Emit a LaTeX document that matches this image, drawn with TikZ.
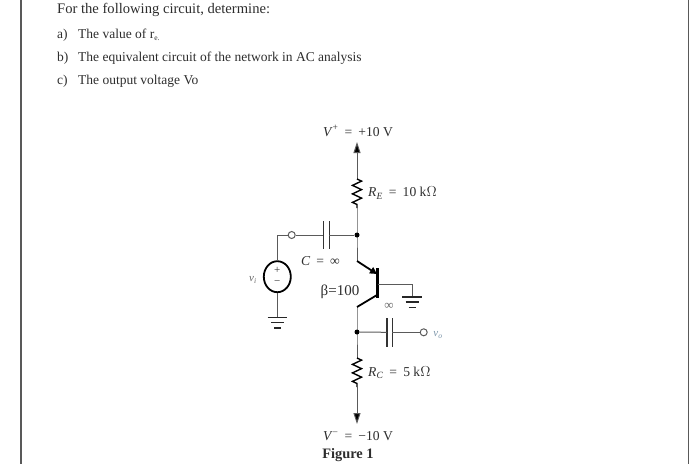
\documentclass[tikz,border=0pt]{standalone}
\usepackage{fontspec}
\setmainfont{Liberation Serif}
\usetikzlibrary{arrows.meta,decorations.pathmorphing,shapes.geometric}
\definecolor{ink}{RGB}{45,45,45}
\definecolor{wire}{RGB}{90,90,90}
\definecolor{voblue}{RGB}{125,150,170}
\newcommand{\wsp}{\hspace{0.45em}}
\tikzset{
  body/.style={font=\fontsize{13.5}{15}\selectfont,text=ink,anchor=west,inner sep=0pt},
  lbl/.style={font=\fontsize{13.6}{15}\selectfont,text=ink,inner sep=0pt},
  wireline/.style={draw=wire,line width=1pt},
  heavy/.style={draw=black,line width=1.8pt},
  plate/.style={draw=black!80,line width=1.6pt},
  terminal/.style={circle,draw=wire,fill=white,line width=1pt,minimum size=7pt,inner sep=0pt},
  dotnode/.style={circle,fill=black,minimum size=5pt,inner sep=0pt},
  resistor/.style={draw=black,line width=1.4pt,decorate,decoration={zigzag,amplitude=4.5pt,segment length=8.5pt}},
  gndbar/.style={draw=black!85,line width=1.6pt},
  border/.style={draw=black!65,line width=1.6pt},
  railarrow/.style={wireline,-{Triangle[length=11pt,width=7pt,fill=black]}}
}
\begin{document}
\begin{tikzpicture}[x=1pt,y=-1pt]
\useasboundingbox (0,0) rectangle (700,464);
% page edges
\coordinate (bl1) at (21,0); \coordinate (bl2) at (21,464);
\coordinate (br1) at (688.5,0); \coordinate (br2) at (688.5,464);
\draw[border] (bl1) -- (bl2);
\draw[border] (br1) -- (br2);
% question text
\node[body,font=\fontsize{14.6}{17}\selectfont] (q0) at (57,10) {For the following circuit, determine:};
\node[body] (qa) at (57,35) {a)};
\node[body] (qat) at (78,35) {The value of r\raisebox{-1.5pt}{\fontsize{7.5}{8}\selectfont e.}};
\node[body] (qb) at (57,58) {b)};
\node[body] (qbt) at (78,58) {The equivalent circuit of the network in AC analysis};
\node[body] (qc) at (57,81) {c)};
\node[body] (qct) at (78,81) {The output voltage Vo};
% rails
\node[lbl] (vplus) at (358,131) {\textit{V}\textsuperscript{+}\wsp=\wsp+10 V};
\coordinate (vptip) at (357,142);
\coordinate (retop) at (357,179);
\coordinate (rebot) at (357,208);
\coordinate (jb) at (357,235);
\coordinate (em) at (357,261);
\coordinate (col) at (357,307);
\coordinate (jo) at (357,332);
\coordinate (rctop) at (357,358);
\coordinate (rcbot) at (357,387);
\coordinate (vmtip) at (357,424);
\node[lbl,anchor=west] (re) at (368,193) {\textit{R\textsubscript{E}}\wsp=\wsp10 k$\Omega$};
\node[lbl,anchor=west] (rc) at (368,373) {\textit{R\textsubscript{C}}\wsp=\wsp5 k$\Omega$};
\node[lbl] (vminus) at (358,436) {\textit{V}\textsuperscript{−}\wsp=\wsp−10 V};
\node[lbl,font=\bfseries\fontsize{14.4}{16}\selectfont] (fig) at (348,455) {Figure 1};
\draw[railarrow] (retop) -- (vptip);
\draw[resistor] (retop) -- (rebot);
\draw[wireline] (rebot) -- (jb) -- (em);
\draw[wireline] (col) -- (jo) -- (rctop);
\draw[resistor] (rctop) -- (rcbot);
\draw[railarrow] (rcbot) -- (vmtip);
\node[dotnode] (jbd) at (jb) {};
\node[dotnode] (jod) at (jo) {};
% transistor
\coordinate (bartop) at (377.5,268);
\coordinate (barbot) at (377.5,298);
\coordinate (basep) at (377.5,284);
\coordinate (emb) at (377,274);
\coordinate (colb) at (377,295);
\draw[draw=black,line width=2.2pt] (bartop) -- (barbot);
\draw[heavy,-{Triangle[length=7pt,width=7pt,fill=black]}] (em) -- (emb);
\draw[heavy] (col) -- (colb);
% base to ground
\coordinate (gb) at (412,284);
\coordinate (gbb) at (412,297);
\draw[wireline] (basep) -- (gb) -- (gbb);
\coordinate (g1l) at (402,297); \coordinate (g1r) at (422,297);
\coordinate (g2l) at (405.5,302); \coordinate (g2r) at (418.5,302);
\coordinate (g3l) at (408.5,307.5); \coordinate (g3r) at (415.5,307.5);
\draw[gndbar] (g1l) -- (g1r);
\draw[gndbar] (g2l) -- (g2r);
\draw[gndbar] (g3l) -- (g3r);
% input capacitor
\node[terminal] (tin) at (291.7,235) {};
\coordinate (cil) at (323.3,235);
\coordinate (cir) at (329.3,235);
\coordinate (c1a) at (323.3,221); \coordinate (c1b) at (323.3,249);
\coordinate (c2a) at (329.3,221); \coordinate (c2b) at (329.3,249);
\draw[plate] (c1a) -- (c1b);
\draw[plate] (c2a) -- (c2b);
\draw[wireline] (tin) -- (cil);
\draw[wireline] (cir) -- (jbd);
% source
\node[ellipse,draw=black,line width=1.8pt,minimum width=27pt,minimum height=31pt,inner sep=0pt] (src) at (277.3,276.7) {};
\node[lbl,font=\fontsize{11}{12}\selectfont] (sp) at (277.3,270.5) {+};
\node[lbl,font=\fontsize{11}{12}\selectfont] (sm) at (277.3,283) {−};
\coordinate (scorner) at (277.3,235);
\draw[wireline] (tin) -- (scorner) -- (src);
\coordinate (sg) at (277.3,317);
\draw[wireline] (src) -- (sg);
\coordinate (s1l) at (267.5,317.5); \coordinate (s1r) at (287,317.5);
\coordinate (s2l) at (271,322.5); \coordinate (s2r) at (284,322.5);
\coordinate (s3l) at (274,327.8); \coordinate (s3r) at (281,327.8);
\draw[gndbar] (s1l) -- (s1r);
\draw[gndbar] (s2l) -- (s2r);
\draw[gndbar] (s3l) -- (s3r);
\node[lbl,font=\itshape\fontsize{11}{12}\selectfont,text=black!60] (vi) at (253,280) {v\textsubscript{i}};
% output capacitor
\node[terminal] (tout) at (423.7,332.3) {};
\coordinate (col1) at (386.7,332.3);
\coordinate (col2) at (392.3,332.3);
\coordinate (c3a) at (386.7,318); \coordinate (c3b) at (386.7,346.5);
\coordinate (c4a) at (392.3,318); \coordinate (c4b) at (392.3,346.5);
\draw[plate] (c3a) -- (c3b);
\draw[plate] (c4a) -- (c4b);
\draw[wireline] (jod) -- (col1);
\draw[wireline] (col2) -- (tout);
\node[lbl,font=\itshape\fontsize{11}{12}\selectfont,text=voblue] (vo) at (438,335) {v\textsubscript{o}};
\node[lbl,font=\fontsize{13}{14}\selectfont,text=black!60] (inf) at (389,306) {∞};
\node[lbl] (cval) at (320.5,261) {\textit{C}\wsp=\wsp∞};
\node[lbl,font=\fontsize{15}{17}\selectfont] (beta) at (340,291.5) {β=100};
\end{tikzpicture}
\end{document}
